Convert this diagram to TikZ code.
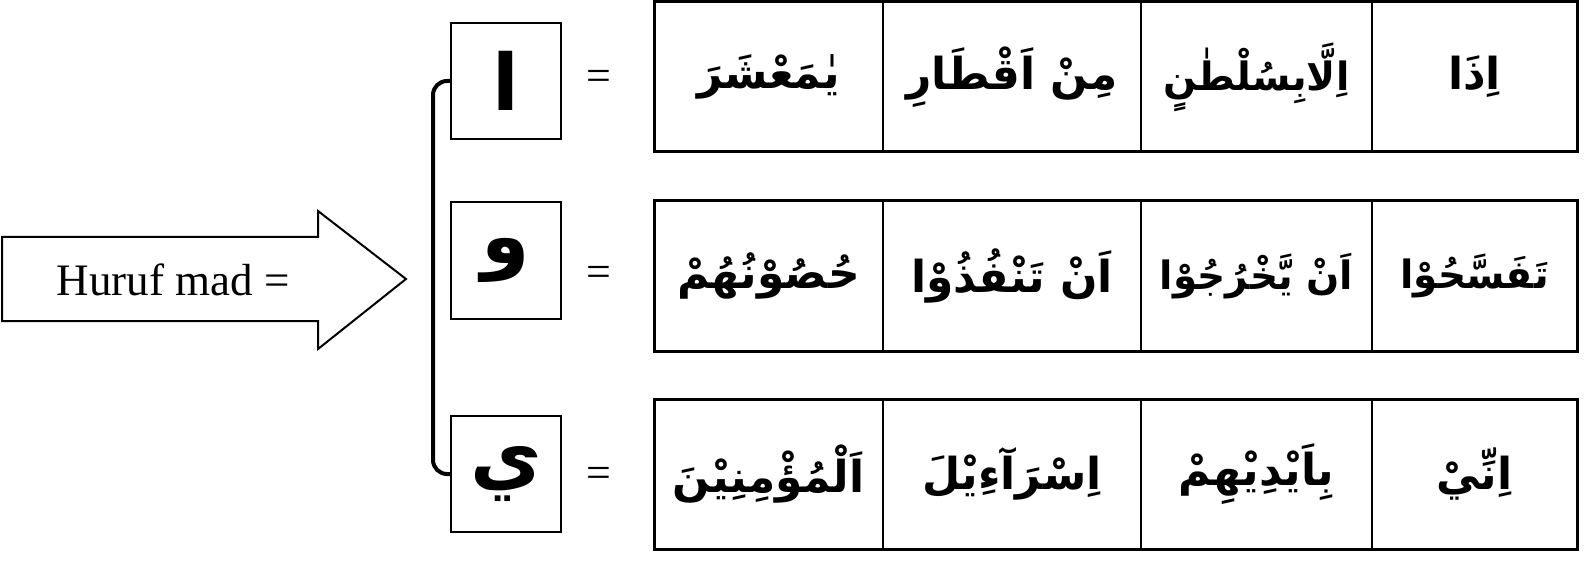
\documentclass[tikz,border=0pt]{standalone}
\usepackage{fontspec}
\setmainfont{Liberation Serif}
\newfontfamily\arabicfont[Script=Arabic]{DejaVu Sans}
\TeXXeTstate=1
\begin{document}
\begin{tikzpicture}[x=1pt,y=-1pt,
  every node/.style={inner sep=0pt,outer sep=0pt},
  letterbox/.style={draw,line width=2pt,minimum width=110pt,minimum height=116pt,
    font=\arabicfont\bfseries\fontsize{78}{90}\selectfont},
  cell/.style={draw,line width=2pt,minimum height=150pt,
    font=\arabicfont\bfseries\fontsize{44}{52}\selectfont},
  smallcell/.style={cell,font=\arabicfont\bfseries\fontsize{39}{46}\selectfont},
  eqsign/.style={font=\fontsize{44}{48}\selectfont},
  rowframe/.style={draw,line width=3pt},
  bracket/.style={line width=4pt,rounded corners=14pt},
  arrowshape/.style={draw,line width=2pt,line join=miter}]
\useasboundingbox (0,0) rectangle (1589,561);

% big arrow
\draw[arrowshape] (2,237) -- (318,237) -- (318,211) -- (406,279) -- (318,349) -- (318,321) -- (2,321) -- cycle;
\node[anchor=base,font=\fontsize{45}{50}\selectfont] (lbl) at (173,295) {Huruf mad =};

% letter boxes
\node[letterbox] (b1) at (506,81)  {\beginR ا\endR};
\node[letterbox] (b2) at (506,260.5) {\beginR و\endR};
\node[letterbox] (b3) at (506,474) {\beginR ي\endR};

% bracket
\draw[bracket] (b1.west) -- ++(-18,0) |- (b3.west);

% equals signs
\node[eqsign] (e1) at (599,80)  {=};
\node[eqsign] (e2) at (599,276) {=};
\node[eqsign] (e3) at (599,477) {=};

% row 1
\node[cell,minimum width=229pt] (r1c1) at (768.5,77) {\beginR يٰمَعْشَرَ\endR};
\node[cell,minimum width=258pt] (r1c2) at (1012,77) {\beginR مِنْ اَقْطَارِ\endR};
\node[smallcell,minimum width=231pt] (r1c3) at (1256.5,77) {\beginR اِلَّابِسُلْطٰنٍ\endR};
\node[cell,minimum width=205pt] (r1c4) at (1474.5,77) {\beginR اِذَا\endR};
\draw[rowframe] (r1c1.north west) rectangle (r1c4.south east);

% row 2
\node[cell,minimum width=229pt] (r2c1) at (768.5,276) {\beginR حُصُوْنُهُمْ\endR};
\node[cell,minimum width=258pt] (r2c2) at (1012,276) {\beginR اَنْ تَنْفُذُوْا\endR};
\node[smallcell,minimum width=231pt] (r2c3) at (1256.5,276) {\beginR اَنْ يَّخْرُجُوْا\endR};
\node[smallcell,minimum width=205pt] (r2c4) at (1474.5,276) {\beginR تَفَسَّحُوْا\endR};
\draw[rowframe] (r2c1.north west) rectangle (r2c4.south east);

% row 3
\node[cell,minimum width=229pt] (r3c1) at (768.5,474) {\beginR اَلْمُؤْمِنِيْنَ\endR};
\node[cell,minimum width=258pt] (r3c2) at (1012,474) {\beginR اِسْرَآءِيْلَ\endR};
\node[cell,minimum width=231pt] (r3c3) at (1256.5,474) {\beginR بِاَيْدِيْهِمْ\endR};
\node[cell,minimum width=205pt] (r3c4) at (1474.5,474) {\beginR اِنِّيْ\endR};
\draw[rowframe] (r3c1.north west) rectangle (r3c4.south east);
\end{tikzpicture}
\end{document}
